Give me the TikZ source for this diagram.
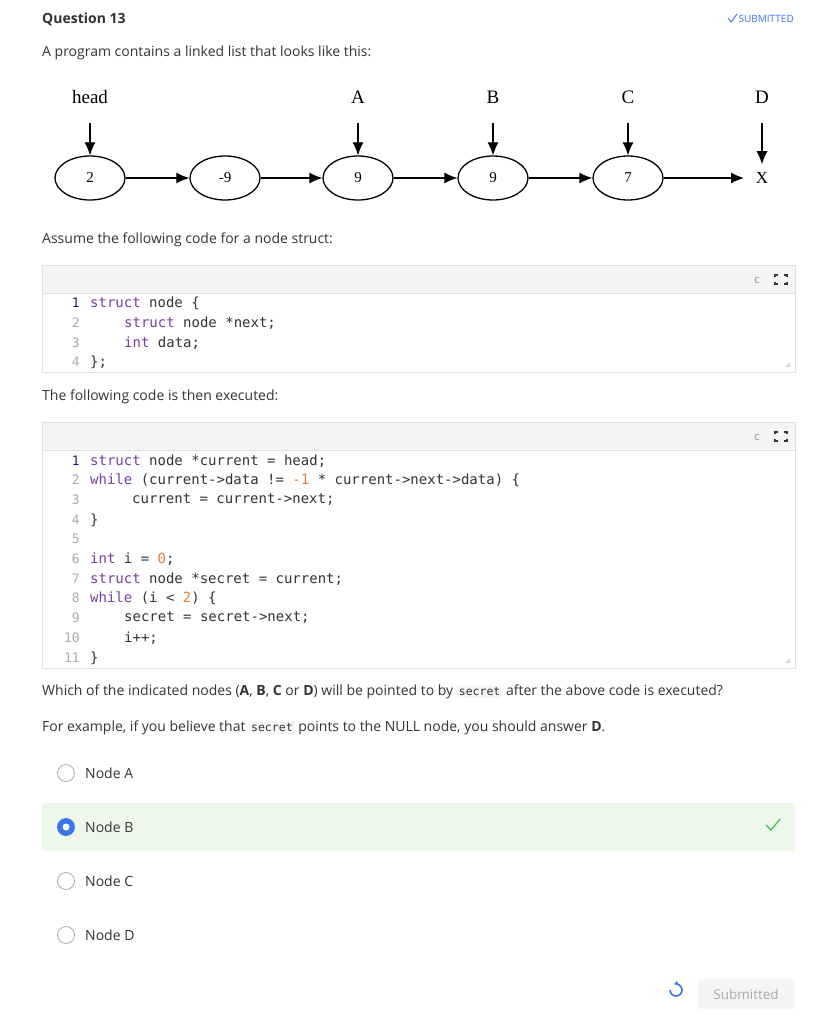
\documentclass[tikz,border=0pt]{standalone}
\usepackage{fontspec}
\setmainfont{Open Sans}
\newfontfamily\serifd{Liberation Serif}
\newfontfamily\codef{DejaVu Sans Mono}
\usetikzlibrary{arrows.meta,shapes.geometric}
\definecolor{txt}{HTML}{333333}
\definecolor{kw}{HTML}{7A3E9D}
\definecolor{nm}{HTML}{E0803A}
\definecolor{ln}{HTML}{AAAAAA}
\definecolor{bdr}{HTML}{E0E0E0}
\definecolor{hdr}{HTML}{F5F5F5}
\definecolor{blu}{HTML}{3B73E8}
\definecolor{grn}{HTML}{EEF8EA}
\newcommand{\kw}[1]{\textcolor{kw}{#1}}
\newcommand{\nm}[1]{\textcolor{nm}{#1}}
\newcommand{\ic}[1]{\tikz[baseline=(t.base)]\node[fill=hdr,inner sep=2pt,rounded corners=2pt,font=\codef\fontsize{11.5}{12}\selectfont,text=txt](t){#1};}
\begin{document}
\begin{tikzpicture}[x=1pt,y=-1pt,
  body/.style={anchor=west,font=\fontsize{14}{16}\selectfont,text=txt,inner sep=0pt},
  cl/.style={anchor=west,font=\codef\fontsize{14}{16}\selectfont,text=txt,inner sep=0pt},
  lno/.style={anchor=east,font=\codef\fontsize{13}{16}\selectfont,text=ln,inner sep=0pt},
  lnode/.style={draw,line width=1.3pt,ellipse,minimum width=70pt,minimum height=44pt,font=\serifd\fontsize{15}{18}\selectfont},
  lab/.style={font=\serifd\fontsize{19}{20}\selectfont},
  arr/.style={line width=1.2pt,-{Latex[length=13pt,width=11pt]}},
  radio/.style={draw=ln,line width=0.8pt,circle,minimum size=17pt,inner sep=0pt},
  expico/.style={line width=1.3pt,txt},
  ]
\useasboundingbox (0,0) rectangle (829,1024);
\fill[white] (0,0) rectangle (829,1024);
\node[body,font=\bfseries\fontsize{14}{16}\selectfont] (q) at (42,19) {Question 13};
\node[anchor=east,text=blu,font=\fontsize{10}{12}\selectfont,inner sep=0pt] (sub) at (794,19) {SUBMITTED};
\draw[blu,line width=0.9pt] (728,18) -- (731,22) -- (737,14);
\node[body] (t1) at (42,53) {A program contains a linked list that looks like this:};
% diagram
\node[lab] (head) at (90,97) {head};
\node[lab] (la) at (358,97) {A};
\node[lab] (lb) at (493,97) {B};
\node[lab] (lc) at (628,97) {C};
\node[lab] (ld) at (762,97) {D};
\node[lnode] (n1) at (90,178) {2};
\node[lnode] (n2) at (225,178) {-9};
\node[lnode] (n3) at (358,178) {9};
\node[lnode] (n4) at (493,178) {9};
\node[lnode] (n5) at (628,178) {7};
\node[font=\serifd\fontsize{17}{18}\selectfont,inner sep=8pt] (x) at (762,178) {X};
\foreach \a/\b in {head/n1,la/n3,lb/n4,lc/n5,ld/x}{\draw[arr] (\a.south |- 0,123) -- (\b.north);}
\foreach \a/\b in {n1/n2,n2/n3,n3/n4,n4/n5}{\draw[arr] (\a) -- (\b);}
\draw[arr] (n5) -- ([xshift=-18pt]x.center);
\node[body] (t2) at (42,240) {Assume the following code for a node struct:};
% code box 1
\fill[hdr] (42,265) rectangle (795,293);
\draw[bdr] (42,265) rectangle (795,372);
\draw[bdr] (42,293) -- (795,293);
\node[font=\fontsize{8.5}{10}\selectfont,text=gray] (c1) at (757,280) {C};
\draw[expico] (775,277) -- (775,275) -- (778,275) (784,275) -- (787,275) -- (787,277) (775,282) -- (775,284) -- (778,284) (784,284) -- (787,284) -- (787,282);
\draw[ln] (786,367) -- (790,363) (788,367) -- (790,365);
\node[lno,text=kw!60!blue!60!black] at (80,303) {1};
\node[lno] at (80,323) {2}; \node[lno] at (80,343) {3}; \node[lno] at (80,362) {4};
\node[cl] (a1) at (90,303) {\kw{struct} node \{};
\node[cl] (a2) at (124,323) {\kw{struct} node *next;};
\node[cl] (a3) at (124,343) {\kw{int} data;};
\node[cl] (a4) at (90,362) {\};};
\node[body] (t3) at (42,397) {The following code is then executed:};
% code box 2
\fill[hdr] (42,422) rectangle (795,450);
\draw[bdr] (42,422) rectangle (795,668);
\draw[bdr] (42,450) -- (795,450);
\node[font=\fontsize{8.5}{10}\selectfont,text=gray] (c2) at (757,437) {C};
\draw[expico] (775,434) -- (775,432) -- (778,432) (784,432) -- (787,432) -- (787,434) (775,439) -- (775,441) -- (778,441) (784,441) -- (787,441) -- (787,439);
\draw[ln] (786,663) -- (790,659) (788,663) -- (790,661);
\foreach \i/\y in {2/480,3/500,4/520,5/539,6/559,7/579,8/598,9/618,10/638,11/658}{\node[lno] at (80,\y) {\i};}
\node[lno,text=kw!60!blue!60!black] at (80,461) {1};
\node[cl] (b1) at (90,461) {\kw{struct} node *current = head;};
\node[cl] (b2) at (90,480) {\kw{while} (current->data != \nm{-1} * current->next->data) \{};
\node[cl] (b3) at (132,500) {current = current->next;};
\node[cl] (b4) at (90,520) {\}};
\node[cl] (b6) at (90,559) {\kw{int} i = \nm{0};};
\node[cl] (b7) at (90,579) {\kw{struct} node *secret = current;};
\node[cl] (b8) at (90,598) {\kw{while} (i < \nm{2}) \{};
\node[cl] (b9) at (124,618) {secret = secret->next;};
\node[cl] (b10) at (124,638) {i++;};
\node[cl] (b11) at (90,658) {\}};
\node[body] (t4) at (42,692) {Which of the indicated nodes (\textbf{A}, \textbf{B}, \textbf{C} or \textbf{D}) will be pointed to by \ic{secret} after the above code is executed?};
\node[body] (t5) at (42,728) {For example, if you believe that \ic{secret} points to the NULL node, you should answer \textbf{D}.};
% options
\fill[grn,rounded corners=3pt] (42,803) rectangle (795,851);
\node[radio] (ra) at (66,773) {};
\node[radio,draw=blu,fill=blu] (rb) at (66,827) {};
\fill[white] (rb) circle (3.5);
\node[radio] (rc) at (66,881) {};
\node[radio] (rd) at (66,935) {};
\node[body] (oa) at (85,773) {Node A};
\node[body] (ob) at (85,827) {Node B};
\node[body] (oc) at (85,881) {Node C};
\node[body] (od) at (85,935) {Node D};
\draw[green!60!black!70,line width=1.2pt] (766,825) -- (771,830) -- (780,819);
% bottom
\draw[blu,line width=1.6pt,-{Latex[length=4pt,width=5pt]}] (670,990) arc (180:-110:6);
\fill[hdr,rounded corners=3pt] (698,979) rectangle (795,1009);
\node[text=ln,font=\fontsize{13.5}{14}\selectfont] (sb) at (746,994) {Submitted};
\end{tikzpicture}
\end{document}
